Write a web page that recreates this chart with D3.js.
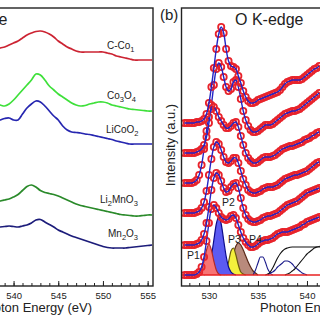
<!DOCTYPE html>
<html>
<head>
<meta charset="utf-8">
<script src="https://cdn.jsdelivr.net/npm/d3@7"></script>
<style>
body { margin: 0; background: #fff; }
svg { display: block; font-family: "Liberation Sans", Arial, sans-serif; }
</style>
</head>
<body>
<svg id="chart" width="320" height="320"></svg>
<script>
// ---- left panel (a): photon energy (eV) vs intensity (a.u.)
var energyL = d3.range(538, 555.6, 0.5);
var namesL = [["C-Co", "1"], ["Co", "3", "O", "4"], ["LiCoO", "2"], ["Li", "2", "MnO", "3"], ["Mn", "2", "O", "3"]];
var cCo1 = [236,238,239,241,243,245,248,251,253,254.5,255,254,252,249,245,242,239,237,235,234,234,234,234,234,234,233,232,230,229,228,227,226,226,226,226,226];
var co3o4 = [182,181,180,182,186,191,196,201,206,212,211,206,200,196,192,189,186,183,181,180,180.5,182,183,184,184,183,181,180,179,178,177,176.5,176,175.5,175,175];
var licoo2 = [165,166,167.5,168,166,166,172,178,182,185,184,180,175,170,166,160,156,154,153.5,153,152,151.5,150.5,149.5,148.5,147.5,146.5,145,144,143,142,142,142,142,142,142];
var li2mno3 = [84,85,86,87,89,91.5,95.5,99.5,101,99,95.5,93.5,92.5,91.5,90,88,86,84,82,80.5,79.5,78.5,77.5,76.5,75.5,74.5,73.5,72.5,71.5,71,70.5,70,70,70.5,71,71];
var mn2o3 = [58.5,59,59.5,60,59.5,59,60,61,63,66,66.5,64,61.5,59,56,54,52,50,48.5,47,45.5,44,42.5,41,39.5,38.5,38,38,38,38,38.5,39,39.5,40,40.5,41];

// ---- right panel (b): O K-edge, stacked spectra (height above own baseline)
var energyR = d3.range(527.5, 541.3, 0.25);
var stackOffsets = [163, 133, 103, 73, 41, 11];
var spec1 = [0,0,0,0,0,1,1,2,4,9,20,36,55,74,89,96,90,74,62,57,56,54,47,40,32,26,22,20,20,21,23,24,25,26,27,28,29,30,31,33,36,39,41,42,43,43,43,43,44,46,48,50,52,54,55,57];
var spec2 = [0,0,0,0,0,1,2,4,8,16,30,48,68,84,90,86,76,66,62,64,71,73,66,54,42,33,27,23,21,21,22,24,26,28,28,28,29,31,33,35,37,39,40,41,42,42,43,44,46,48,50,52,54,56,58,60];
var spec3 = [0,0,0,0,1,3,8,18,34,52,66,74,76,72,66,62,58,55,55,57,60,61,56,47,38,30,25,22,20,20,21,23,25,26,26,26,27,28,30,32,34,35,36,37,37,38,39,40,41,43,44,45,47,48,50,51];
var spec4 = [0,0,0,0,0,1,2,5,11,22,38,54,66,71,69,63,56,51,50,52,55,55,50,42,34,28,23,21,20,20,21,22,24,25,26,26,26,27,28,30,32,34,35,36,37,38,38,39,40,41,42,44,46,48,50,51];
var spec5 = [0,0,0,0,0,1,2,5,11,22,38,55,67,72,70,64,57,53,54,58,61,62,57,47,37,30,26,24,23,23,24,25,27,28,29,29,30,31,32,34,36,38,40,41,42,43,44,46,48,50,52,53,54,55,56,57];
var spec6 = [0,0,0,0,0,1,3,8,18,34,52,66,70,67,62,58,56,55,56,59,60,57,50,43,37,33,30,28,28,29,31,33,34,35,35,36,37,39,41,42,43,43,43,44,45,46,47,48,50,51,53,54,55,56,57,58];

// fitted components of the bottom spectrum: [energy, height]
var peakP1 = [[528.75,0],[529,1],[529.25,5],[529.5,14],[529.75,25],[530,31],[530.25,25],[530.5,14],[530.75,5],[531,1],[531.25,0]];
var peakP2 = [[529.5,0],[529.75,3],[530,8],[530.25,19],[530.5,35],[530.75,51],[531,58],[531.25,51],[531.5,35],[531.75,19],[532,8],[532.25,3],[532.5,1],[532.75,0]];
var peakP3 = [[531.5,0],[531.75,4],[532,13],[532.25,24],[532.5,27],[532.75,20],[533,10],[533.25,3],[533.5,1],[533.75,0]];
var peakP4 = [[531.75,0],[532,4],[532.25,11],[532.5,21],[532.75,29],[533,32],[533.25,30],[533.5,25],[533.75,19],[534,13],[534.25,8],[534.5,4],[534.75,2],[535,0]];
var peakS1 = [[534.5,0],[534.75,5],[535,12],[535.25,18],[535.5,18],[535.75,13],[536,6],[536.25,2],[536.5,0]];
var peakS2 = [[536,0],[536.25,2],[536.5,3],[536.75,5],[537,8],[537.25,10],[537.5,12],[537.75,14],[538,14],[538.25,13],[538.5,11],[538.75,8],[539,6],[539.25,4],[539.5,2],[539.75,1],[540,0]];
var stepE1 = [[535.75,0],[536,1],[536.25,3],[536.5,7],[536.75,12],[537,17],[537.25,21],[537.5,24],[537.75,26],[538,27],[538.5,28],[539,28],[539.5,28],[540,28],[540.5,28],[541,28],[541.5,28]];
var stepE2 = [[537.75,0],[538,1],[538.25,2],[538.5,4],[538.75,6],[539,9],[539.25,12],[539.5,15],[539.75,18],[540,21],[540.25,23],[540.5,25],[540.75,27],[541,28],[541.5,29]];
var peakNames = ["P1", "P2", "P3", "P4"];

var svg = d3.select("#chart");
var y = d3.scaleLinear().domain([0, 278]).range([286, 8]);
var xL = d3.scaleLinear().domain([525, 555.6]).range([-120.5, 153]);
var xR = d3.scaleLinear().domain([527.2, 545]).range([181.5, 356]);

var defs = svg.append("defs");
defs.append("clipPath").attr("id", "clipL").append("rect")
    .attr("x", -130).attr("y", 8).attr("width", 283).attr("height", 278);
defs.append("clipPath").attr("id", "clipR").append("rect")
    .attr("x", 181.5).attr("y", 8).attr("width", 200).attr("height", 278);

// ---------- left panel
var gL = svg.append("g").attr("clip-path", "url(#clipL)");
var lineL = d3.line().x(function(d, i) { return xL(energyL[i]); }).y(function(d) { return y(d); })
    .curve(d3.curveCatmullRom);
var seriesL = [cCo1, co3o4, licoo2, li2mno3, mn2o3];
var colorsL = ["#cc2332", "#3ee03a", "#2626b0", "#2a8a2a", "#1c1c7a"];
gL.selectAll("path.spec")
    .data(seriesL)
    .enter()
    .append("path")
        .attr("class", "spec")
        .attr("d", lineL)
        .attr("fill", "none")
        .attr("stroke", function(d, i) { return colorsL[i]; })
        .attr("stroke-width", 1.7);

var labelPos = [[107, 49], [107, 99], [106, 133], [100, 203], [108, 237]];
namesL.forEach(function(parts, i) {
    var t = svg.append("text").attr("x", labelPos[i][0]).attr("y", labelPos[i][1])
        .attr("font-size", 10).attr("fill", "#222");
    parts.forEach(function(p, j) {
        var sub = j % 2 === 1;
        t.append("tspan").text(p)
            .attr("font-size", sub ? 7.5 : 10)
            .attr("dy", sub ? 3 : (j > 0 ? -3 : 0));
    });
});

svg.append("rect").attr("x", -130).attr("y", 8).attr("width", 283).attr("height", 278)
    .attr("fill", "none").attr("stroke", "#222").attr("stroke-width", 1.4);

function drawAxis(scale, minor, major) {
    svg.append("g").attr("transform", "translate(0,286)")
        .call(d3.axisBottom(scale).tickValues(minor).tickSize(-3).tickFormat(""))
        .attr("color", "#222")
        .call(function(g) { g.select(".domain").remove(); g.selectAll("text").remove(); });
    svg.append("g").attr("transform", "translate(0,286)")
        .call(d3.axisBottom(scale).tickValues(major).tickSize(-5).tickPadding(6))
        .attr("color", "#222")
        .attr("font-size", 9.5)
        .attr("font-family", "Liberation Sans, Arial, sans-serif")
        .call(function(g) { g.select(".domain").remove(); });
}
drawAxis(xL, d3.range(538, 556, 1), [540, 545, 550, 555]);

svg.append("text").attr("x", 7.5).attr("y", 25).attr("text-anchor", "end")
    .attr("font-size", 16).attr("fill", "#222").text("O K-edge");
svg.append("text").attr("x", 92).attr("y", 312).attr("text-anchor", "end")
    .attr("font-size", 13).attr("fill", "#222").text("Photon Energy (eV)");

// ---------- right panel
var gR = svg.append("g").attr("clip-path", "url(#clipR)");
var base = stackOffsets[5];
var areaC = d3.area().x(function(d) { return xR(d[0]); })
    .y0(y(base)).y1(function(d) { return y(base + d[1]); }).curve(d3.curveMonotoneX);
var lineC = d3.line().x(function(d) { return xR(d[0]); })
    .y(function(d) { return y(base + d[1]); }).curve(d3.curveMonotoneX);

var filled = [peakP4, peakP3, peakP2, peakP1];
var fillCols = ["#b98a7c", "#f4f03c", "#5b5bf2", "#f77474"];
var edgeCols = ["#5a2a1a", "#6a5a10", "#0c0c8c", "#b02a2a"];
filled.forEach(function(c, i) {
    gR.append("path").attr("d", areaC(c)).attr("fill", fillCols[i]);
    gR.append("path").attr("d", lineC(c)).attr("fill", "none")
        .attr("stroke", edgeCols[i]).attr("stroke-width", 1.2);
});
[peakS1, peakS2].forEach(function(c) {
    gR.append("path").attr("d", lineC(c)).attr("fill", "none")
        .attr("stroke", "#1a1a8a").attr("stroke-width", 1.1);
});
[stepE1, stepE2].forEach(function(c) {
    gR.append("path").attr("d", lineC(c)).attr("fill", "none")
        .attr("stroke", "#111").attr("stroke-width", 1.1);
});
gR.append("line").attr("x1", xR(527.2)).attr("x2", xR(545))
    .attr("y1", y(base)).attr("y2", y(base))
    .attr("stroke", "#e82020").attr("stroke-width", 1.6);

var specs = [spec6, spec5, spec4, spec3, spec2, spec1];
var offs = stackOffsets.slice().reverse();
specs.forEach(function(s, k) {
    var off = offs[k];
    gR.append("g").selectAll("circle")
        .data(s)
        .enter()
        .append("circle")
            .attr("cx", function(d, i) { return xR(energyR[i]); })
            .attr("cy", function(d) { return y(off + d); })
            .attr("r", 3.1)
            .attr("fill", "none")
            .attr("stroke", "#e8232b")
            .attr("stroke-width", 1.8);
    gR.append("path")
        .attr("d", d3.line().x(function(d, i) { return xR(energyR[i]); })
            .y(function(d) { return y(off + d); }).curve(d3.curveCatmullRom)(s))
        .attr("fill", "none")
        .attr("stroke", "#2424c4")
        .attr("stroke-width", 1.4);
});

svg.append("rect").attr("x", 181.5).attr("y", 8).attr("width", 200).attr("height", 278)
    .attr("fill", "none").attr("stroke", "#222").attr("stroke-width", 1.4);
drawAxis(xR, d3.range(528, 546, 1), [530, 535, 540]);

var peakLabelPos = [[187, 259], [222, 206], [228, 243], [249, 243]];
peakNames.forEach(function(n, i) {
    svg.append("text").attr("x", peakLabelPos[i][0]).attr("y", peakLabelPos[i][1])
        .attr("font-size", 10.5).attr("fill", "#222").text(n);
});

svg.append("text").attr("x", 160).attr("y", 20).attr("font-size", 15).attr("fill", "#222").text("(b)");
svg.append("text").attr("x", 235).attr("y", 25).attr("font-size", 16).attr("fill", "#222").text("O K-edge");
svg.append("text").attr("transform", "translate(175,145) rotate(-90)")
    .attr("text-anchor", "middle").attr("font-size", 13).attr("fill", "#222").text("Intensity (a.u.)");
svg.append("text").attr("x", 260).attr("y", 312)
    .attr("font-size", 13).attr("fill", "#222").text("Photon Energy (eV)");
</script>
</body>
</html>
